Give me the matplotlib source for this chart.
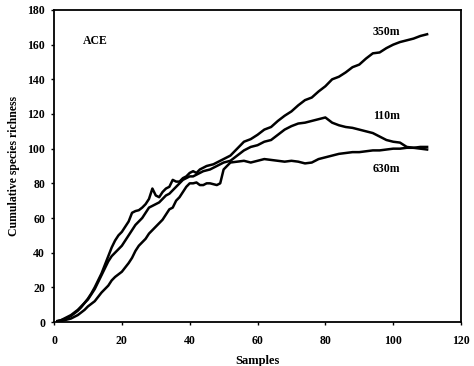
import numpy as np
import matplotlib
matplotlib.use("Agg")
import matplotlib.pyplot as plt

# Samples (1..50 every sample, then every 2)
samples = list(range(1, 51)) + list(range(52, 111, 2))

rich_350 = [0.5, 1, 1.5, 2.5, 3.5, 5, 6.5, 8.5, 11, 13.5,
            16.5, 20, 24, 28, 33, 38, 43, 47, 50, 52,
            55, 58, 63, 64, 64.5, 66, 68, 71, 77, 73,
            72, 75, 77, 78, 82, 81, 81, 83, 84, 86,
            87, 86, 88, 89, 90, 90.5, 91, 92, 93, 94,
            96, 100, 104, 105.5, 108, 111, 112.5, 116, 119, 121.5,
            125, 128, 129.5, 133, 136, 140, 141.5, 144, 147, 148.5,
            152, 155, 155.5, 158, 160, 161.5, 162.5, 163.5, 165, 166]

rich_110 = [0.5, 1, 2, 3, 4, 5.5, 7, 9, 11, 13,
            16, 19, 23, 27, 31, 35, 38, 40, 42, 44,
            47, 50, 53, 56, 58, 60, 63, 66, 67, 68,
            69, 71, 73, 74, 76, 78, 80, 82, 83, 84,
            84, 85, 86, 87, 87.5, 88, 89, 90, 91, 92,
            93, 96, 99, 101, 102, 104, 105, 108, 111, 113,
            114.5, 115, 116, 117, 118, 115, 113.5, 112.5, 112, 111,
            110, 109, 107, 105, 104, 103.5, 101, 100.5, 100, 99.5]

rich_630 = [0.5, 0.5, 1, 1.5, 2, 3, 4, 5.5, 7, 9,
            10.5, 12, 14.5, 17, 19, 21, 24, 26, 27.5, 29,
            31.5, 34, 37, 41, 44, 46, 48, 51, 53, 55,
            57, 59, 62, 65, 66, 70, 72, 75, 78, 80,
            80, 80.5, 79, 79, 80, 80, 79.5, 79, 80, 88,
            92, 92.5, 93, 92, 93, 94, 93.5, 93, 92.5, 93,
            92.5, 91.5, 92, 94, 95, 96, 97, 97.5, 98, 98,
            98.5, 99, 99, 99.5, 100, 100, 100.5, 100.5, 101, 101]

serif = "Liberation Serif"

fig = plt.figure(figsize=(4.74, 3.66), dpi=100)
ax = fig.add_axes([0.114, 0.1202, 0.8586, 0.8525])

for ys in (rich_350, rich_110, rich_630):
    ax.plot(samples, ys, color="black", lw=1.8, solid_joinstyle="round")

ax.set_xlim(0, 120)
ax.set_ylim(0, 180)
ax.set_xticks(range(0, 121, 20))
ax.set_yticks(range(0, 181, 20))

for s in ax.spines.values():
    s.set_linewidth(1.3)
ax.tick_params(axis="both", direction="out", length=2.5, width=1, labelsize=8.5)
ax.tick_params(axis="x", pad=6.5)
ax.tick_params(axis="y", pad=4)
for lab in ax.get_xticklabels() + ax.get_yticklabels():
    lab.set_fontfamily(serif)
    lab.set_fontweight("bold")

ax.set_xlabel("Samples", fontfamily=serif, fontweight="bold", fontsize=9, labelpad=6)
ax.set_ylabel("Cumulative species richness", fontfamily=serif, fontweight="bold",
              fontsize=8.5, labelpad=5)

ax.text(8.5, 162, "ACE", fontfamily=serif, fontweight="bold", fontsize=8.5, va="center")
ax.text(98, 167.5, "350m", fontfamily=serif, fontweight="bold", fontsize=8.5,
        ha="center", va="center")
ax.text(98, 119, "110m", fontfamily=serif, fontweight="bold", fontsize=8.5,
        ha="center", va="center")
ax.text(98, 88.5, "630m", fontfamily=serif, fontweight="bold", fontsize=8.5,
        ha="center", va="center")

fig.savefig("out.png", dpi=100)
